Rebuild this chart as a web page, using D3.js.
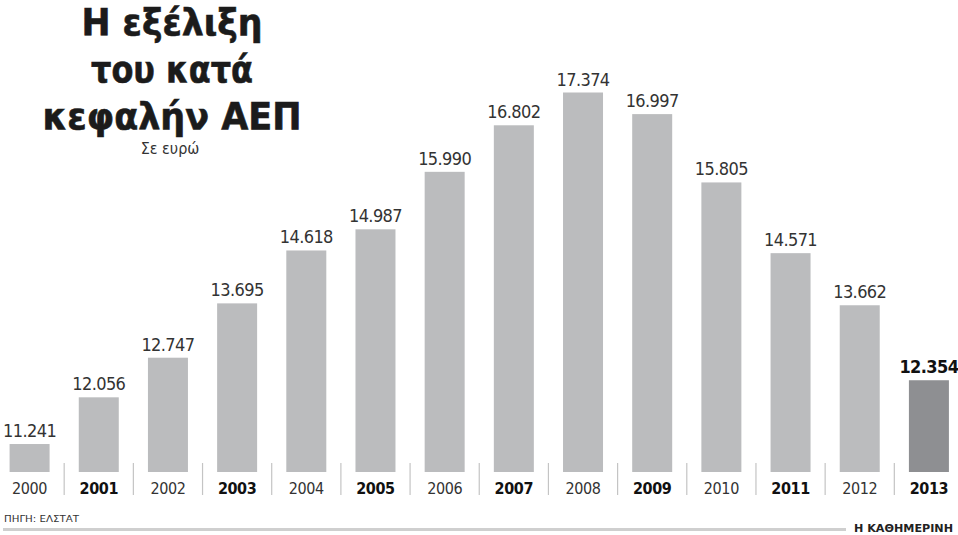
<!DOCTYPE html>
<html><head><meta charset="utf-8">
<script src="https://cdn.jsdelivr.net/npm/d3@7"></script>
<style>
html,body{margin:0;padding:0;background:#fff;}
svg{display:block;}
</style></head>
<body>
<svg id="chart" width="958" height="535"></svg>
<script>
const years = ["2000","2001","2002","2003","2004","2005","2006","2007","2008","2009","2010","2011","2012","2013"];
const values = [11241,12056,12747,13695,14618,14987,15990,16802,17374,16997,15805,14571,13662,12354];
const valueLabels = ["11.241","12.056","12.747","13.695","14.618","14.987","15.990","16.802","17.374","16.997","15.805","14.571","13.662","12.354"];
const titleLines = ["Η εξέλιξη","του κατά","κεφαλήν ΑΕΠ"];
const subtitle = "Σε ευρώ";
const sourceText = "ΠΗΓΗ: ΕΛΣΤΑΤ";
const brandText = "Η ΚΑΘΗΜΕΡΙΝΗ";

const svg = d3.select("#chart");
const narrow = "'DejaVu Sans Condensed','Liberation Sans Narrow','Open Sans',sans-serif";

const x = d3.scaleBand().domain(years).range([-5, 963.5]).padding(0);
const bw = 40;
const y = d3.scaleLinear().domain([10753, 17374]).range([472, 92.5]);
const last = years[years.length - 1];

// bars
svg.append("g").selectAll("rect").data(years).join("rect")
  .attr("x", d => x(d) + (x.bandwidth() - bw) / 2)
  .attr("width", bw)
  .attr("y", (d, i) => y(values[i]))
  .attr("height", (d, i) => y.range()[0] - y(values[i]))
  .attr("fill", d => d === last ? "#8e8f92" : "#bbbcbe");

// value labels
svg.append("g").selectAll("text").data(years).join("text")
  .attr("x", d => x(d) + x.bandwidth() / 2)
  .attr("y", (d, i) => y(values[i]) - 7)
  .attr("text-anchor", "middle")
  .attr("font-family", narrow)
  .attr("font-size", 18)
  .attr("font-weight", d => d === last ? "bold" : "normal")
  .attr("fill", d => d === last ? "#111" : "#333")
  .attr("letter-spacing", -0.6)
  .text((d, i) => valueLabels[i]);

// separators
svg.append("g").selectAll("line").data(years.slice(1)).join("line")
  .attr("x1", d => x(d)).attr("x2", d => x(d))
  .attr("y1", 463).attr("y2", 495)
  .attr("stroke", "#c4c4c4").attr("stroke-width", 1.2);

// year labels
svg.append("g").selectAll("text").data(years).join("text")
  .attr("x", d => x(d) + x.bandwidth() / 2)
  .attr("y", 494)
  .attr("text-anchor", "middle")
  .attr("font-family", narrow)
  .attr("font-size", 16)
  .attr("font-weight", (d, i) => i % 2 === 1 ? "bold" : "normal")
  .attr("fill", (d, i) => i % 2 === 1 ? "#111" : "#333")
  .attr("letter-spacing", -0.4)
  .text(d => d);

// title
const titleWidths = [181, 162, 259];
const titleY = [35, 82, 129];
svg.append("g").selectAll("text").data(titleLines).join("text")
  .attr("x", 172)
  .attr("y", (d, i) => titleY[i])
  .attr("text-anchor", "middle")
  .attr("font-family", "'DejaVu Sans Condensed','DejaVu Sans',sans-serif")
  .attr("font-weight", "bold")
  .attr("font-size", 38)
  .attr("fill", "#1b1b1b")
  .attr("stroke", "#1b1b1b")
  .attr("stroke-width", 0.6)
  .attr("textLength", (d, i) => titleWidths[i])
  .attr("lengthAdjust", "spacingAndGlyphs")
  .text(d => d);

svg.append("text")
  .attr("x", 170).attr("y", 154)
  .attr("text-anchor", "middle")
  .attr("font-family", narrow)
  .attr("font-size", 16)
  .attr("fill", "#333")
  .text(subtitle);

// footer
svg.append("text")
  .attr("x", 4).attr("y", 522)
  .attr("font-family", narrow)
  .attr("font-size", 9)
  .attr("fill", "#333")
  .attr("textLength", 75)
  .attr("lengthAdjust", "spacingAndGlyphs")
  .text(sourceText);

svg.append("line")
  .attr("x1", 3).attr("x2", 846)
  .attr("y1", 529.5).attr("y2", 529.5)
  .attr("stroke", "#cfcfcf").attr("stroke-width", 3);

svg.append("text")
  .attr("x", 953).attr("y", 532)
  .attr("text-anchor", "end")
  .attr("font-family", narrow)
  .attr("font-size", 11)
  .attr("font-weight", "bold")
  .attr("fill", "#222")
  .attr("textLength", 99)
  .attr("lengthAdjust", "spacingAndGlyphs")
  .text(brandText);
</script>
</body></html>
